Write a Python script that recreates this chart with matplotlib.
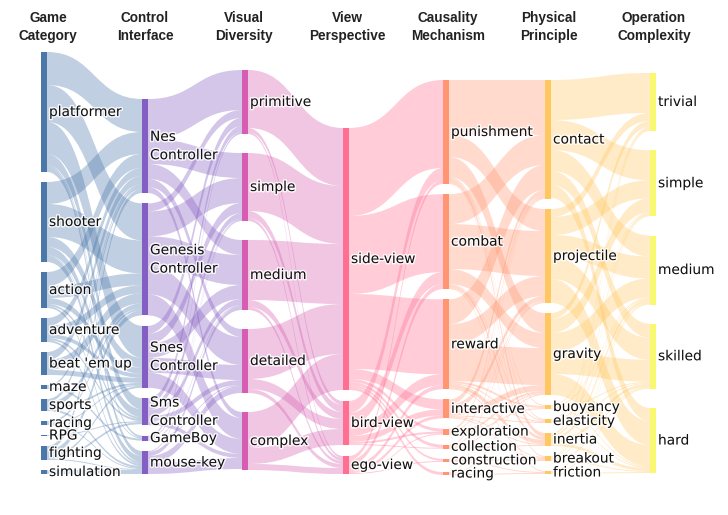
import matplotlib
matplotlib.use("Agg")
import matplotlib.pyplot as plt
from matplotlib.path import Path
from matplotlib.patches import PathPatch, Rectangle
import matplotlib.patheffects as pe

# ---------------- data ----------------
headers = ["Game\nCategory", "Control\nInterface", "Visual\nDiversity", "View\nPerspective",
           "Causality\nMechanism", "Physical\nPrinciple", "Operation\nComplexity"]

game_category = ["platformer", "shooter", "action", "adventure", "beat 'em up", "maze",
                 "sports", "racing", "RPG", "fighting", "simulation"]
control_interface = ["Nes\nController", "Genesis\nController", "Snes\nController",
                     "Sms\nController", "GameBoy", "mouse-key"]
visual_diversity = ["primitive", "simple", "medium", "detailed", "complex"]
view_perspective = ["side-view", "bird-view", "ego-view"]
causality_mechanism = ["punishment", "combat", "reward", "interactive", "exploration",
                       "collection", "construction", "racing"]
physical_principle = ["contact", "projectile", "gravity", "buoyancy", "elasticity",
                      "inertia", "breakout", "friction"]
operation_complexity = ["trivial", "simple", "medium", "skilled", "hard"]

# flows: rows = source categories, columns = target categories
flows_game_control = [
    [33, 37, 32, 11, 2, 5],   # platformer
    [22, 33, 10, 8, 1, 6],    # shooter
    [14, 12, 6, 2, 0, 2],     # action
    [8, 8, 4, 2, 0, 2],       # adventure
    [8, 10, 5, 0, 0, 0],      # beat 'em up
    [2, 0, 0, 0, 2, 0],       # maze
    [3, 5, 2, 0, 0, 2],       # sports
    [0, 2, 1, 0, 0, 1],       # racing
    [0, 0, 0, 1, 0, 0],       # RPG
    [4, 5, 2, 2, 0, 1],       # fighting
    [0, 0, 0, 0, 0, 4],       # simulation
]
flows_control_visual = [
    [40, 25, 15, 8, 6],       # Nes
    [8, 25, 30, 28, 21],      # Genesis
    [8, 10, 14, 15, 15],      # Snes
    [6, 6, 6, 5, 4],          # Sms
    [2, 1, 1, 1, 0],          # GameBoy
    [0, 1, 4, 7, 11],         # mouse-key
]
flows_visual_view = [
    [58, 4, 2],               # primitive
    [58, 7, 3],               # simple
    [60, 7, 3],               # medium
    [50, 10, 4],              # detailed
    [36, 16, 6],              # complex
]
flows_view_causality = [
    [88, 78, 75, 10, 3, 3, 2, 3],   # side-view
    [12, 12, 11, 6, 2, 1, 0, 0],    # bird-view
    [4, 5, 4, 3, 1, 0, 1, 0],       # ego-view
]
flows_causality_physical = [
    [55, 22, 20, 1, 1, 4, 1, 0],    # punishment
    [30, 45, 15, 0, 1, 3, 0, 1],    # combat
    [25, 20, 37, 2, 1, 4, 1, 0],    # reward
    [5, 5, 6, 0, 1, 1, 1, 0],       # interactive
    [2, 1, 2, 1, 0, 0, 0, 0],       # exploration
    [1, 1, 1, 0, 0, 1, 0, 0],       # collection
    [0, 0, 0, 0, 0, 0, 2, 1],       # construction
    [1, 0, 1, 0, 0, 0, 0, 1],       # racing
]
flows_physical_operation = [
    [40, 30, 21, 14, 13],     # contact
    [8, 18, 22, 22, 24],      # projectile
    [6, 14, 19, 22, 21],      # gravity
    [0, 1, 1, 1, 1],          # buoyancy
    [1, 0, 1, 1, 1],          # elasticity
    [2, 2, 3, 3, 3],          # inertia
    [1, 1, 1, 1, 1],          # breakout
    [0, 0, 1, 1, 1],          # friction
]

columns = [game_category, control_interface, visual_diversity, view_perspective,
           causality_mechanism, physical_principle, operation_complexity]
flows = [flows_game_control, flows_control_visual, flows_visual_view,
         flows_view_causality, flows_causality_physical, flows_physical_operation]

# ---------------- style / layout ----------------
node_colors = ["#4B77A9", "#845EC2", "#D65DB1", "#FF6F91", "#FF9671", "#FFC75F", "#F9F871"]
col_x = [41, 142, 242, 343, 443, 545, 650]
col_span = [(52, 474), (99, 474), (70, 470), (128, 474), (80, 475), (80, 474), (73, 473)]
header_x = [48, 145, 244, 347, 448, 549, 654]
node_w = 6
link_alpha = 0.35

W, H = 728, 515
fig = plt.figure(figsize=(W / 100, H / 100), dpi=100)
ax = fig.add_axes([0, 0, 1, 1])
ax.set_xlim(0, W)
ax.set_ylim(H, 0)
ax.axis("off")

# node values = max(inflow, outflow)
values = []
for c, names in enumerate(columns):
    vals = []
    for i in range(len(names)):
        out_v = sum(flows[c][i]) if c < len(flows) else 0
        in_v = sum(row[i] for row in flows[c - 1]) if c > 0 else 0
        vals.append(max(in_v, out_v))
    values.append(vals)

scale = 1.0
node_pos = []  # (top, height)
for c, vals in enumerate(values):
    top, bot = col_span[c]
    hs = [v * scale for v in vals]
    gap = (bot - top - sum(hs)) / (len(hs) - 1)
    y = top
    pos = []
    for h in hs:
        pos.append((y, h))
        y += h + gap
    node_pos.append(pos)

# links
for c, mat in enumerate(flows):
    ns, nt = len(columns[c]), len(columns[c + 1])
    src_off = [node_pos[c][i][0] for i in range(ns)]
    tgt_off = [node_pos[c + 1][j][0] for j in range(nt)]
    src_y = {}
    for i in range(ns):
        for j in range(nt):
            v = mat[i][j]
            if v > 0:
                src_y[(i, j)] = src_off[i]
                src_off[i] += v * scale
    tgt_y = {}
    for j in range(nt):
        for i in range(ns):
            v = mat[i][j]
            if v > 0:
                tgt_y[(i, j)] = tgt_off[j]
                tgt_off[j] += v * scale
    x0 = col_x[c] + node_w
    x1 = col_x[c + 1]
    xm = (x0 + x1) / 2
    for (i, j), ya in src_y.items():
        v = mat[i][j] * scale
        yb = tgt_y[(i, j)]
        verts = [(x0, ya), (xm, ya), (xm, yb), (x1, yb),
                 (x1, yb + v), (xm, yb + v), (xm, ya + v), (x0, ya + v), (x0, ya)]
        codes = [Path.MOVETO, Path.CURVE4, Path.CURVE4, Path.CURVE4,
                 Path.LINETO, Path.CURVE4, Path.CURVE4, Path.CURVE4, Path.CLOSEPOLY]
        ax.add_patch(PathPatch(Path(verts, codes), facecolor=node_colors[c],
                               alpha=link_alpha, edgecolor="none", lw=0))

# nodes and labels
halo = [pe.withStroke(linewidth=2.2, foreground="white", alpha=0.8)]
for c, names in enumerate(columns):
    for i, name in enumerate(names):
        y, h = node_pos[c][i]
        ax.add_patch(Rectangle((col_x[c], y), node_w, max(h, 1), facecolor=node_colors[c],
                               edgecolor="none"))
        ax.text(col_x[c] + node_w + 2, y + h / 2, name, fontsize=9.9, family="DejaVu Sans",
                va="center", ha="left", color="#111111", linespacing=1.4, path_effects=halo)

for c, t in enumerate(headers):
    ax.text(header_x[c], 27, t, fontsize=9.8, fontweight="bold", family="Liberation Sans",
            ha="center", va="center", color="#222222", linespacing=1.35)

fig.savefig("out.png", dpi=100)
